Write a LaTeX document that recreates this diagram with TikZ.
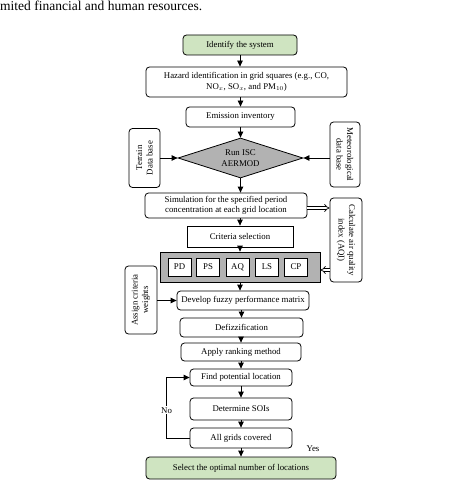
\documentclass[tikz,border=0pt]{standalone}
\usepackage{fontspec}
\setmainfont{Liberation Serif}
\usetikzlibrary{positioning,shapes.geometric,arrows.meta}
\definecolor{boxgreen}{RGB}{207,228,193}
\definecolor{boxgray}{RGB}{178,178,178}

\begin{document}
\begin{tikzpicture}[x=1pt,y=1pt,
    every node/.style={font=\fontsize{8.8}{10.5}\selectfont, align=center, inner sep=1pt},
    stepbox/.style={draw, line width=0.8pt, rounded corners=3.5pt, fill=white},
    sqbox/.style={draw, line width=0.8pt, fill=white},
    greenbox/.style={stepbox, fill=boxgreen},
    flow/.style={line width=0.8pt, -{Triangle[length=6pt,width=5.5pt]}},
    dbl/.style={double, double distance=2pt, line width=0.7pt, -{Implies[length=3pt]}}]

    \useasboundingbox (0,0) rectangle (474,-489);

    \node (top) [anchor=base west, inner sep=0, font=\fontsize{13.5}{15}\selectfont] at (0,-11) {mited financial and human resources.};

    % main column
    \node (idn) [greenbox, minimum width=114, minimum height=20] at (240,-45) {Identify the system};
    \node (haz) [stepbox, minimum width=201, minimum height=30] at (246.5,-82) {Hazard identification in grid squares (e.g., CO,\\NO$_x$, SO$_x$, and PM$_{10}$)};
    \node (emi) [stepbox, minimum width=109, minimum height=20] at (240.5,-117) {Emission inventory};
    \node (run) [draw, line width=0.8pt, shape=diamond, fill=boxgray, aspect=3.1, inner sep=0,
                 minimum width=125, minimum height=40] at (240.5,-158) {Run ISC\\AERMOD};
    \node (sim) [stepbox, minimum width=162, minimum height=25] at (226,-205.5) {Simulation for the specified period\\concentration at each grid location};
    \node (cri) [sqbox, minimum width=106, minimum height=21] at (240,-236.5) {Criteria selection};

    \node (gry) [sqbox, fill=boxgray, minimum width=160, minimum height=30] at (240,-267) {};
    \node (pd) [sqbox, minimum width=23, minimum height=18] at (179.5,-267) {PD};
    \node (ps) [sqbox, minimum width=23, minimum height=18] at (208,-267) {PS};
    \node (aq) [sqbox, minimum width=23, minimum height=18] at (237.5,-267) {AQ};
    \node (ls) [sqbox, minimum width=23, minimum height=18] at (267,-267) {LS};
    \node (cp) [sqbox, minimum width=23, minimum height=18] at (296,-267) {CP};

    \node (dev) [stepbox, minimum width=132, minimum height=19] at (243,-300.5) {Develop fuzzy performance matrix};
    \node (def) [stepbox, minimum width=123, minimum height=19] at (241.5,-327.5) {Defizzification};
    \node (app) [stepbox, minimum width=120, minimum height=18] at (241,-352) {Apply ranking method};
    \node (fin) [stepbox, minimum width=102, minimum height=17] at (241,-377.5) {Find potential location};
    \node (det) [stepbox, minimum width=102, minimum height=22] at (241,-409) {Determine SOIs};
    \node (all) [stepbox, minimum width=102, minimum height=20] at (241,-438) {All grids covered};
    \node (sel) [greenbox, minimum width=190, minimum height=22] at (241,-468) {Select the optimal number of locations};
    \node (yes) at (313,-449) {Yes};

    % side boxes
    \node (ter) [stepbox, rotate=90, minimum width=59, minimum height=31] at (144.5,-158) {Terrain\\Data base};
    \node (met) [stepbox, rotate=-90, minimum width=65, minimum height=30] at (345,-154.5) {Meteorological\\data base};
    \node (aqi) [stepbox, rotate=-90, minimum width=84, minimum height=32] at (346,-240) {Calculate air quality\\index (AQI)};
    \node (asg) [stepbox, rotate=90, minimum width=68, minimum height=32] at (141,-300) {Assign criteria\\weights};

    % connectors
    \foreach \a/\b in {idn/haz, emi/run, run/sim, cri/gry, gry/dev, app/fin, fin/det, det/all, all/sel}
        \draw[flow] (\a.south) -- (\a.south |- \b.north);
    \foreach \a/\b in {haz/emi, sim/cri, dev/def, def/app}
        \draw[flow] (\b.north |- \a.south) -- (\b.north);

    \draw[flow] (ter.south |- run.west) -- (run.west);
    \draw[flow] (met.south |- run.east) -- (run.east);
    \draw[flow] (asg.south |- dev.west) -- (dev.west);
    \draw[dbl] ([yshift=-2.5pt]sim.east) -- ([yshift=-2.5pt]sim.east -| aqi.south);
    \draw[dbl] ([yshift=-3pt]gry.east -| aqi.south) -- ([yshift=-3pt]gry.east);

    \draw[flow] (all.west) -- ([xshift=-23pt]all.west) |- node[pos=0.23, fill=white] {No} (fin.west);
\end{tikzpicture}
\end{document}
